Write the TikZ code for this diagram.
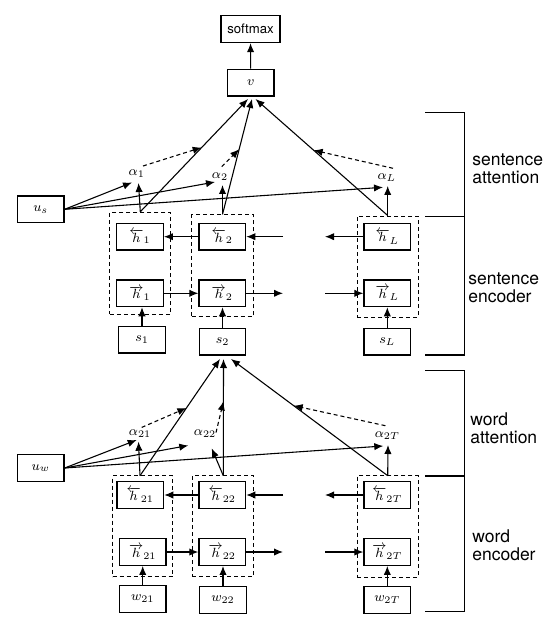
\RequirePackage{fix-cm}
\documentclass[tikz,border=0pt]{standalone}
\usepackage{fontspec}
\newfontfamily\hel{TeX Gyre Heros}
\usetikzlibrary{arrows.meta,calc}
\newlength\px \setlength\px{0.6pt}
\begin{document}
\begin{tikzpicture}[x=0.6pt,y=-0.6pt,
  box/.style={draw, line width=0.75pt, minimum width=46.7\px, minimum height=26.7\px, inner sep=0pt, font=\fontsize{8}{9}\selectfont},
  dbox/.style={draw, line width=0.65pt, dash pattern=on 2.4pt off 1.8pt, inner sep=0pt},
  arr/.style={-{Latex[length=5.4pt,width=4.4pt]}, line width=0.65pt},
  darr/.style={arr, dash pattern=on 2.4pt off 1.8pt},
  lbl/.style={inner sep=0.5pt, font=\fontsize{8}{9}\selectfont},
  side/.style={anchor=west, align=left, font=\hel\fontsize{10.5}{11}\selectfont, inner sep=0pt},
  brk/.style={line width=0.65pt}]
\useasboundingbox (0,0) rectangle (542,620);

% top
\node[box, minimum width=59\px] (sm) at (250.5,29.2) {\hel\fontsize{7.9}{9}\selectfont softmax};
\node[box] (v) at (250.7,82.7) {$v$};
\draw[arr] (v) -- (sm);

% context vectors
\node[box] (us) at (40.7,209.3) {$u_s$};
\node[box] (uw) at (40.7,468) {$u_w$};

% sentence level dashed boxes
\node[dbox, minimum width=60.7\px, minimum height=102\px] (c1) at (140.3,263.3) {};
\node[dbox, minimum width=61.6\px, minimum height=101.7\px] (c2) at (222.5,265.8) {};
\node[dbox, minimum width=60.7\px, minimum height=101.3\px] (c3) at (387.7,266.7) {};

% sentence level boxes
\node[box] (hb1) at (140,236.7) {$\overleftarrow{h}_1$};
\node[box] (hb2) at (222.3,236.7) {$\overleftarrow{h}_2$};
\node[box] (hbL) at (387.3,236.7) {$\overleftarrow{h}_L$};
\node[box] (hf1) at (140,293.3) {$\overrightarrow{h}_1$};
\node[box] (hf2) at (222.3,293.3) {$\overrightarrow{h}_2$};
\node[box] (hfL) at (387.3,293.3) {$\overrightarrow{h}_L$};
\node[box] (s1) at (142,339.7) {$s_1$};
\node[box] (s2) at (222.5,341.7) {$s_2$};
\node[box] (sL) at (387.3,341.7) {$s_L$};

% word level dashed boxes
\node[dbox, minimum width=60\px, minimum height=101\px] (c1w) at (142.7,526.2) {};
\node[dbox, minimum width=61.3\px, minimum height=101\px] (c2w) at (222.7,526.2) {};
\node[dbox, minimum width=60.7\px, minimum height=101.6\px] (c3w) at (387.7,526.5) {};

% word level boxes
\node[box] (wb1) at (140.3,495) {$\overleftarrow{h}_{21}$};
\node[box] (wb2) at (222.3,495) {$\overleftarrow{h}_{22}$};
\node[box] (wbT) at (387.3,495) {$\overleftarrow{h}_{2T}$};
\node[box] (wf1) at (142.7,552) {$\overrightarrow{h}_{21}$};
\node[box] (wf2) at (222.3,552) {$\overrightarrow{h}_{22}$};
\node[box] (wfT) at (387.3,552) {$\overrightarrow{h}_{2T}$};
\node[box] (w1) at (142.7,599) {$w_{21}$};
\node[box] (w2) at (223,600) {$w_{22}$};
\node[box] (wT) at (387.3,600) {$w_{2T}$};

% attention labels
\node[lbl] (a1) at (136.7,173.3) {$\alpha_1$};
\node[lbl] (a2) at (220,176.7) {$\alpha_2$};
\node[lbl] (aL) at (386.7,177.3) {$\alpha_L$};
\node[lbl] (a21) at (140,434) {$\alpha_{21}$};
\node[lbl] (a22) at (205,434) {$\alpha_{22}$};
\node[lbl] (a2T) at (387.3,436) {$\alpha_{2T}$};

% sentence encoder arrows
\coordinate (r1) at (283,236.7);
\coordinate (l1) at (325,236.7);
\coordinate (r2) at (283,293.3);
\coordinate (l2) at (325,293.3);
\draw[arr] (hb2) -- (hb1);
\draw[arr] (r1) -- (hb2.east);
\draw[arr] (hbL.west) -- (l1);
\draw[arr] (hf1) -- (hf2);
\draw[arr] (hf2.east) -- (r2);
\draw[arr] (l2) -- (hfL.west);
\draw[arr] (s1.north) -- (s1.north |- hf1.south);
\draw[arr] (s2.north) -- (s2.north |- hf2.south);
\draw[arr] (sL.north) -- (sL.north |- hfL.south);

% word encoder arrows
\coordinate (r3) at (283,495);
\coordinate (l3) at (325,495);
\coordinate (r4) at (283,552);
\coordinate (l4) at (325,552);
\draw[arr] (wb2) -- (wb1);
\draw[arr] (r3) -- (wb2.east);
\draw[arr] (wbT.west) -- (l3);
\draw[arr] (wf1) -- (wf2);
\draw[arr] (wf2.east) -- (r4);
\draw[arr] (l4) -- (wfT.west);
\draw[arr] (w1.north) -- (w1.north |- wf1.south);
\draw[arr] (w2.north) -- (w2.north |- wf2.south);
\draw[arr] (wT.north) -- (wT.north |- wfT.south);

% sentence attention
\coordinate (t1) at (132,182.5);
\coordinate (t1u) at (138.5,183);
\coordinate (t2) at (215,182);
\coordinate (t2u) at (222.5,185);
\coordinate (tL) at (383,187.3);
\coordinate (tLu) at (387.7,186);
\draw[arr] (us.east) -- (t1);
\draw[arr] (us.east) -- (t2);
\draw[arr] (us.east) -- (tL);
\draw[arr] (c1.north) -- (t1u);
\draw[arr] (c2.north) -- (t2u);
\draw[arr] (c3.north) -- (tLu);
\coordinate (v1) at (248,99);
\coordinate (v2) at (252,99);
\coordinate (v3) at (255.5,99);
\draw[arr] (c1.north) -- (v1);
\draw[arr] (c2.north) -- (v2);
\draw[arr] (c3.north) -- (v3);
\coordinate (e1) at (143,166);
\coordinate (e2) at (221.7,166.7);
\coordinate (eL) at (393,168.3);
\draw[darr] (e1) -- ($(c1.north)!0.57!(v1)$);
\draw[darr] (e2) -- ($(c2.north)!0.565!(v2)$);
\draw[darr] (eL) -- ($(c3.north)!0.56!(v3)$);

% word attention
\coordinate (k1) at (140,475.7);
\coordinate (k2) at (223.3,475.7);
\coordinate (k3) at (387.7,475.7);
\coordinate (m1) at (136.7,440);
\coordinate (m1u) at (138.5,441.7);
\coordinate (m2) at (188.3,445.5);
\coordinate (m2u) at (211.7,448.3);
\coordinate (mT) at (383.3,446);
\coordinate (mTu) at (388,445);
\draw[arr] (uw.east) -- (m1);
\draw[arr] (uw.east) -- (m2);
\draw[arr] (uw.east) -- (mT);
\draw[arr] (k1) -- (m1u);
\draw[arr] (k2) -- (m2u);
\draw[arr] (k3) -- (mTu);
\coordinate (q1) at (220,359);
\coordinate (q2) at (223.5,359);
\coordinate (q3) at (231,359);
\draw[arr] (k1) -- (q1);
\draw[arr] (k2) -- (q2);
\draw[arr] (k3) -- (q3);
\coordinate (f1) at (141.7,427.4);
\coordinate (f2) at (216,432.6);
\coordinate (fT) at (385.4,425.7);
\draw[darr] (f1) -- ($(k1)!0.58!(q1)$);
\draw[darr] (f2) -- ($(k2)!0.637!(q2)$);
\draw[darr] (fT) -- ($(k3)!0.6!(q3)$);

% brackets
\draw[brk] (425,112.3) -- (464.3,112.3) -- (464.3,355) -- (425,355);
\draw[brk] (425,216.7) -- (464.3,216.7);
\draw[brk] (425,370.7) -- (464.3,370.7) -- (464.3,611.7) -- (425,611.7);
\draw[brk] (425,476) -- (464.3,476);

\node[side] (la1) at (472,169) {sentence\\attention};
\node[side] (la2) at (468,287.5) {sentence\\encoder};
\node[side] (la3) at (470,428) {word\\attention};
\node[side] (la4) at (472,545) {word\\encoder};
\end{tikzpicture}
\end{document}
